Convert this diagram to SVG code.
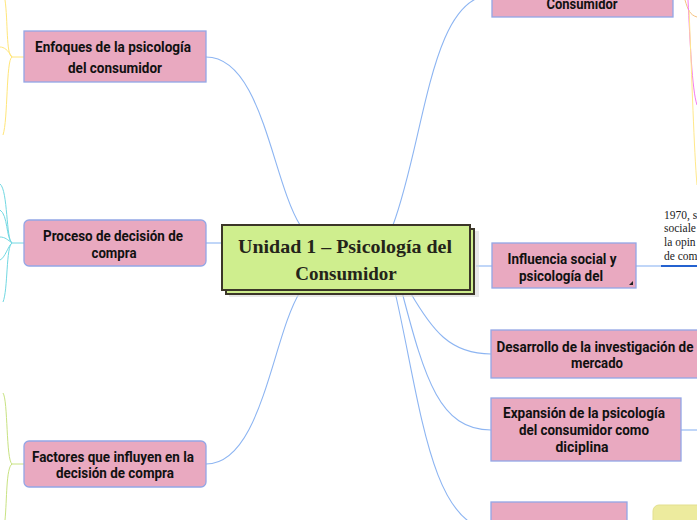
<svg xmlns="http://www.w3.org/2000/svg" width="697" height="520" viewBox="0 0 697 520">
<style>
.n{fill:#E9A9C0;stroke:#93A6E6;stroke-width:1.3}
.t{font-family:Roboto,"Liberation Sans",sans-serif;font-weight:bold;font-size:14px;fill:#111;text-anchor:middle}
.c{fill:none;stroke:#8DB5F2;stroke-width:1.1}
.ct{font-family:"Liberation Serif","DejaVu Serif",serif;font-weight:bold;font-size:19px;fill:#24241a;text-anchor:middle}
.side{font-family:"Liberation Serif","DejaVu Serif",serif;font-size:11.5px;fill:#222}
</style>
<rect width="697" height="520" fill="#fff"/>
<g id="connectors">
<path class="c" d="M206,57 C262,57 272,180 300,225"/>
<path class="c" d="M393,225 C425,140 430,-5 492,-5"/>
<path class="c" d="M206,243 L222,243"/>
<path class="c" d="M300,292 C272,337 262,464 206,464"/>
<path class="c" d="M476,266 L492,266"/>
<path class="c" d="M410,292 C432,330 450,354 491,354"/>
<path class="c" d="M402,292 C425,380 440,430 491,430"/>
<path class="c" d="M395,292 C420,400 430,525 491,530"/>
<path class="c" d="M636,266 L661,266"/>
<path class="c" d="M681,430 L697,430"/>
<path d="M661,266 L697,266" stroke="#2462D0" stroke-width="2" fill="none"/>
<g fill="none" stroke="#FFE67A" stroke-width="1">
<path d="M24,57 L12,57"/>
<path d="M12,57 C6,55 8,20 5,0"/>
<path d="M12,57 C8,50 4,47 0,47"/>
<path d="M12,57 C6,60 8,120 3,135"/>
</g>
<g fill="none" stroke="#72D8E2" stroke-width="1">
<path d="M24,243 L12,243"/>
<path d="M12,243 C6,240 8,190 0,184"/>
<path d="M12,243 C6,238 8,215 0,210"/>
<path d="M12,243 C8,240 5,237 0,237"/>
<path d="M12,243 C8,246 5,258 0,260"/>
<path d="M12,243 C6,246 8,290 3,302"/>
</g>
<g fill="none" stroke="#C8E282" stroke-width="1">
<path d="M24,464 L12,464"/>
<path d="M12,464 C6,460 8,400 3,393"/>
<path d="M12,464 C6,468 7,500 5,520"/>
</g>
<path d="M685,0 C688,10 690,15 697,17" fill="none" stroke="#F5C27F" stroke-width="1"/>
<path d="M688,0 C690,40 692,90 697,105" fill="none" stroke="#F57AF0" stroke-width="1"/>
<path d="M689,10 C692,80 694,150 697,185" fill="none" stroke="#FFE88A" stroke-width="1"/>
</g>
<g id="central">
<rect x="229" y="231" width="250" height="66" fill="#d8d8d8" opacity="0.6"/>
<rect x="226" y="229" width="248" height="65" fill="#CFEE8E" stroke="#3B3628" stroke-width="2"/>
<rect x="222" y="225" width="248" height="65" fill="#CFEE8E" stroke="#3B3628" stroke-width="2"/>
<text class="ct" x="345" y="253" textLength="214" lengthAdjust="spacingAndGlyphs">Unidad 1 – Psicología del</text>
<text class="ct" x="346" y="280">Consumidor</text>
</g>
<g id="enfoques">
<rect class="n" x="24" y="31" width="182" height="51"/>
<text class="t" x="113" y="52" textLength="156" lengthAdjust="spacingAndGlyphs">Enfoques de la psicología</text>
<text class="t" x="115" y="73" textLength="94" lengthAdjust="spacingAndGlyphs">del consumidor</text>
</g>
<g id="proceso">
<rect class="n" x="24" y="220" width="182" height="46" rx="5"/>
<text class="t" x="113" y="241" textLength="140" lengthAdjust="spacingAndGlyphs">Proceso de decisión de</text>
<text class="t" x="114" y="258" textLength="45" lengthAdjust="spacingAndGlyphs">compra</text>
</g>
<g id="factores">
<rect class="n" x="24" y="441" width="182" height="46" rx="5"/>
<text class="t" x="113" y="462" textLength="162" lengthAdjust="spacingAndGlyphs">Factores que influyen en la</text>
<text class="t" x="115" y="478" textLength="118" lengthAdjust="spacingAndGlyphs">decisión de compra</text>
</g>
<g id="origen">
<rect class="n" x="492" y="-30" width="181" height="47"/>
<text class="t" x="582" y="9" textLength="71" lengthAdjust="spacingAndGlyphs">Consumidor</text>
</g>
<g id="influencia">
<rect class="n" x="492" y="243" width="144" height="45"/>
<text class="t" x="562" y="264" textLength="109" lengthAdjust="spacingAndGlyphs">Influencia social y</text>
<text class="t" x="561" y="281" textLength="84" lengthAdjust="spacingAndGlyphs">psicología del</text>
<polygon points="629,285 633,285 633,281" fill="#222"/>
</g>
<g id="nota">
<text class="side" x="664" y="219">1970, s</text>
<text class="side" x="664" y="232">sociale</text>
<text class="side" x="664" y="246">la opin</text>
<text class="side" x="664" y="260">de com</text>
</g>
<g id="desarrollo">
<rect class="n" x="491" y="330" width="212" height="48"/>
<text class="t" x="595" y="352" textLength="197" lengthAdjust="spacingAndGlyphs">Desarrollo de la investigación de</text>
<text class="t" x="597" y="368" textLength="52" lengthAdjust="spacingAndGlyphs">mercado</text>
</g>
<g id="expansion">
<rect class="n" x="491" y="398" width="190" height="63"/>
<text class="t" x="584" y="418" textLength="162" lengthAdjust="spacingAndGlyphs">Expansión de la psicología</text>
<text class="t" x="584" y="435" textLength="130" lengthAdjust="spacingAndGlyphs">del consumidor como</text>
<text class="t" x="582" y="452" textLength="53" lengthAdjust="spacingAndGlyphs">diciplina</text>
</g>
<g id="inferior">
<rect class="n" x="491" y="502" width="136" height="40"/>
</g>
<g id="nota2">
<rect x="653" y="505" width="60" height="40" rx="6" fill="#EDEB9E" stroke="#E3E08F" stroke-width="1"/>
</g>
</svg>
